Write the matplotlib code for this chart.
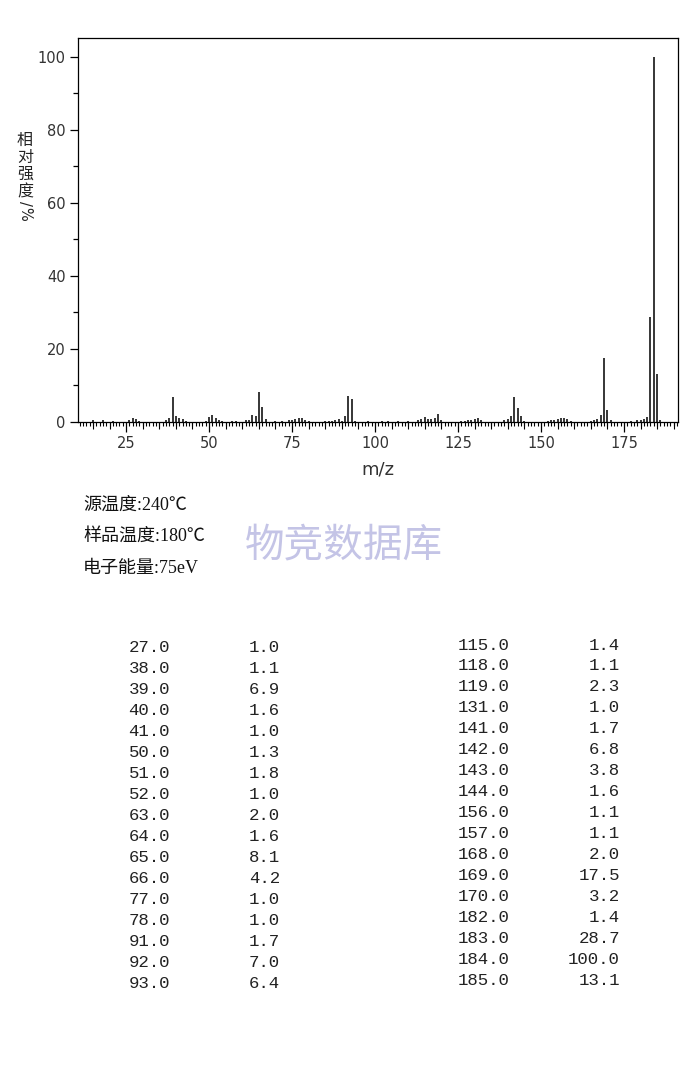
import matplotlib
matplotlib.use("Agg")
import matplotlib.pyplot as plt
from matplotlib.ticker import MultipleLocator, FixedLocator, NullFormatter

# ---- spectrum data (m/z, relative intensity %) ----
mz = [15, 18, 21, 26, 27, 28, 29, 37, 38, 39, 40, 41, 42, 43,
      49, 50, 51, 52, 53, 54, 57, 58, 61, 62, 63, 64, 65, 66, 67,
      70, 72, 74, 75, 76, 77, 78, 79, 80, 85, 86, 87, 88, 89, 90, 91, 92, 93, 94,
      98, 102, 104, 107, 110, 113, 114, 115, 116, 117, 118, 119, 120,
      126, 127, 128, 129, 130, 131, 132, 139, 140, 141, 142, 143, 144, 145,
      152, 153, 154, 155, 156, 157, 158, 159, 165, 166, 167, 168, 169, 170, 171,
      177, 179, 180, 181, 182, 183, 184, 185, 186]
intensity = [0.6, 0.5, 0.4, 0.5, 1.0, 0.7, 0.3, 0.6, 1.1, 6.9, 1.6, 1.0, 0.7, 0.3,
             0.4, 1.3, 1.8, 1.0, 0.6, 0.4, 0.3, 0.3, 0.5, 0.6, 2.0, 1.6, 8.1, 4.2, 0.7,
             0.4, 0.3, 0.5, 0.6, 0.8, 1.0, 1.0, 0.6, 0.3, 0.3, 0.4, 0.4, 0.5, 0.7, 0.4, 1.7, 7.0, 6.4, 0.4,
             0.3, 0.3, 0.3, 0.3, 0.3, 0.5, 0.8, 1.4, 0.8, 0.9, 1.1, 2.3, 0.5,
             0.4, 0.4, 0.5, 0.6, 0.7, 1.0, 0.5, 0.5, 0.7, 1.7, 6.8, 3.8, 1.6, 0.4,
             0.4, 0.5, 0.6, 0.9, 1.1, 1.1, 0.8, 0.4, 0.3, 0.5, 0.9, 2.0, 17.5, 3.2, 0.5,
             0.3, 0.5, 0.5, 0.8, 1.4, 28.7, 100.0, 13.1, 0.6]

# ---- peak table ----
table_left_mz = ["27.0", "38.0", "39.0", "40.0", "41.0", "50.0", "51.0", "52.0", "63.0",
                 "64.0", "65.0", "66.0", "77.0", "78.0", "91.0", "92.0", "93.0"]
table_left_int = ["1.0", "1.1", "6.9", "1.6", "1.0", "1.3", "1.8", "1.0", "2.0",
                  "1.6", "8.1", "4.2", "1.0", "1.0", "1.7", "7.0", "6.4"]
table_right_mz = ["115.0", "118.0", "119.0", "131.0", "141.0", "142.0", "143.0", "144.0", "156.0",
                  "157.0", "168.0", "169.0", "170.0", "182.0", "183.0", "184.0", "185.0"]
table_right_int = ["1.4", "1.1", "2.3", "1.0", "1.7", "6.8", "3.8", "1.6", "1.1",
                   "1.1", "2.0", "17.5", "3.2", "1.4", "28.7", "100.0", "13.1"]

info_lines = ["源温度:240℃", "样品温度:180℃", "电子能量:75eV"]
y_label_cjk = "相\n对\n强\n度"
y_label_tail = ["/", "%"]
x_label = "m/z"
watermark = "物竞数据库"

W, H = 687, 1090
fig = plt.figure(figsize=(W / 100, H / 100), dpi=100)
fig.patch.set_facecolor("white")

def fx(px):
    return px / W

def fy(py):
    return 1 - py / H

ax = fig.add_axes([fx(78), fy(422), fx(678) - fx(78), fy(38) - fy(422)])
ax.vlines(mz, 0, intensity, color="black", linewidth=1.1)
ax.set_xlim(10.5, 191.3)
ax.set_ylim(0, 105.2)

for s in ax.spines.values():
    s.set_linewidth(0.9)
    s.set_color("black")

ax.xaxis.set_major_locator(MultipleLocator(25))
ax.xaxis.set_minor_locator(MultipleLocator(1))
ax.yaxis.set_major_locator(MultipleLocator(20))
ax.yaxis.set_minor_locator(MultipleLocator(10))
ax.tick_params(axis="x", which="major", direction="out", length=7, width=0.9,
               labelsize=10.5, labelcolor="#333333", pad=3)
ax.tick_params(axis="x", which="minor", direction="out", length=3, width=0.8)
ax.tick_params(axis="y", which="major", direction="out", length=6, width=0.9,
               labelsize=10.5, labelcolor="#333333", pad=3)
ax.tick_params(axis="y", which="minor", direction="out", length=3.5, width=0.9)
for lab in ax.get_xticklabels() + ax.get_yticklabels():
    lab.set_family("DejaVu Sans")

# medium ticks every 5
sec = ax.secondary_xaxis("bottom")
five = [v for v in range(15, 191, 5) if v % 25 != 0]
sec.xaxis.set_major_locator(FixedLocator(five))
sec.xaxis.set_major_formatter(NullFormatter())
sec.tick_params(axis="x", which="major", direction="out", length=5, width=0.8)
sec.xaxis.set_minor_locator(FixedLocator([]))
sec.spines["bottom"].set_visible(False)

fig.text(fx(378), fy(469), x_label, ha="center", va="center", fontsize=13,
         family="DejaVu Sans", color="#333333")

cjk = ["Noto Sans CJK SC", "DejaVu Sans"]
fig.text(fx(25), fy(166), y_label_cjk, ha="center", va="center", fontsize=11.5,
         family=cjk, color="#222222", linespacing=1.0)
for j, ch in enumerate(y_label_tail):
    fig.text(fx(25), fy(203 + 11 * j), ch, ha="center", va="center", fontsize=10.5,
             family="DejaVu Sans", color="#222222", rotation=270)

info_font = ["Liberation Serif", "Noto Sans CJK SC"]
for i, line in enumerate(info_lines):
    fig.text(fx(83), fy(505 + 31.5 * i), line, ha="left", va="center", fontsize=13,
             family=info_font, color="#111111")

fig.text(fx(344), fy(545), watermark, ha="center", va="center", fontsize=28.5,
         family=cjk, color="#c4c4e6")

mono = "Liberation Mono"
row0, step = 648, 20.94
for i in range(len(table_left_mz)):
    y = fy(row0 + step * i)
    fig.text(fx(170), y, table_left_mz[i], ha="right", va="center", fontsize=12.5,
             family=mono, color="#222222")
    fig.text(fx(280), y, table_left_int[i], ha="right", va="center", fontsize=12.5,
             family=mono, color="#222222")
for i in range(len(table_right_mz)):
    y = fy(row0 - 3 + step * i)
    fig.text(fx(510), y, table_right_mz[i], ha="right", va="center", fontsize=12.5,
             family=mono, color="#222222")
    fig.text(fx(620), y, table_right_int[i], ha="right", va="center", fontsize=12.5,
             family=mono, color="#222222")

fig.savefig("out.png", dpi=100, facecolor="white")
